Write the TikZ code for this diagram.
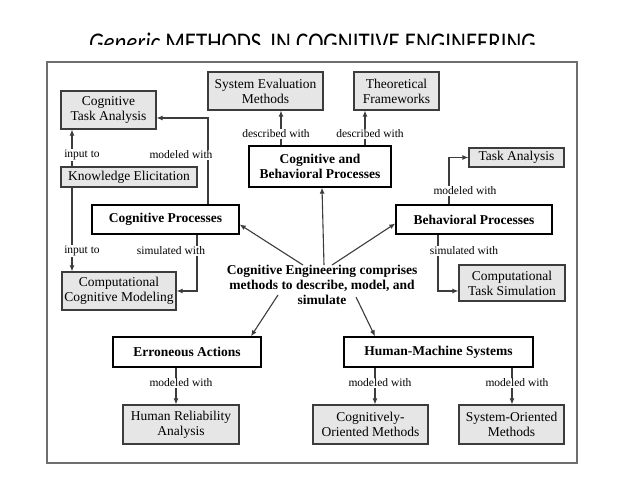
\documentclass[tikz,border=0pt]{standalone}
\usepackage{fontspec}
\setmainfont{Liberation Serif}
\newfontfamily\titlefont{Carlito}
\usepackage{tikz}
\usetikzlibrary{positioning, calc, arrows.meta}
\definecolor{BoxGray}{RGB}{230,230,230}
\definecolor{EdgeGray}{RGB}{60,60,60}
\definecolor{FrameGray}{RGB}{110,110,110}
\tikzset{
    methodbox/.style={
        draw=EdgeGray, fill=BoxGray, line width=1.2pt, align=center, inner sep=0pt,
        font=\fontsize{13.5}{15}\selectfont
    },
    procbox/.style={
        draw=black, fill=white, line width=1.4pt, align=center, inner sep=0pt,
        font=\fontsize{13.5}{15}\selectfont\bfseries
    },
    ptr/.style={
        -{Latex[length=6pt,width=5pt]}, line width=1.1pt, draw=EdgeGray
    },
    labelptr/.style={
        fill=white, inner sep=1pt, font=\fontsize{11.5}{13}\selectfont
    }
}

\begin{document}
\begin{tikzpicture}[x=1pt, y=-1pt]
    \useasboundingbox (0,0) rectangle (638,478);
    % title, cut at the bottom
    \begin{scope}
        \clip (0,0) rectangle (638,45);
        \node[anchor=base west, inner sep=0pt, font=\titlefont\fontsize{27}{30}\selectfont] (title) at (89,52)
            {\scalebox{0.85}[1]{\textit{Generic} METHODS\, IN COGNITIVE ENGINEERING}};
    \end{scope}
    \draw[FrameGray, line width=1.5pt] (47,62) rectangle (577,463);

    % boxes
    \node[methodbox, minimum width=95pt, minimum height=38pt] (cta) at (108.5,110) {Cognitive\\Task Analysis};
    \node[methodbox, minimum width=115pt, minimum height=38pt] (sem) at (265.5,91) {System Evaluation\\Methods};
    \node[methodbox, minimum width=85pt, minimum height=38pt] (tf) at (396.5,91) {Theoretical\\Frameworks};
    \node[methodbox, minimum width=136pt, minimum height=20pt] (ke) at (129,177) {Knowledge Elicitation};
    \node[procbox, minimum width=142pt, minimum height=41pt] (cbp) at (320,166.5) {Cognitive and\\Behavioral Processes};
    \node[methodbox, minimum width=95pt, minimum height=19pt] (ta) at (516.5,157.5) {Task Analysis};
    \node[procbox, minimum width=147pt, minimum height=29pt] (cogproc) at (165.5,219.5) {Cognitive Processes};
    \node[procbox, minimum width=156pt, minimum height=29pt] (behproc) at (474,219.5) {Behavioral Processes};
    \node[methodbox, minimum width=114pt, minimum height=38pt] (ccm) at (119,291) {Computational\\Cognitive Modeling};
    \node[methodbox, minimum width=106pt, minimum height=36pt] (cts) at (512,283) {Computational\\Task Simulation};
    \node[align=center, inner sep=0pt, font=\fontsize{13.5}{15}\selectfont\bfseries] (ce) at (322,285)
        {Cognitive Engineering comprises\\methods to describe, model, and\\simulate};
    \node[procbox, minimum width=148pt, minimum height=30pt] (ea) at (187,352) {Erroneous Actions};
    \node[procbox, minimum width=189pt, minimum height=30pt] (hms) at (438.5,352) {Human-Machine Systems};
    \node[methodbox, minimum width=116pt, minimum height=39pt] (hra) at (181,424.5) {Human Reliability\\Analysis};
    \node[methodbox, minimum width=115pt, minimum height=39pt] (com) at (370.5,424.5) {Cognitively-\\Oriented Methods};
    \node[methodbox, minimum width=105pt, minimum height=39pt] (som) at (511.5,424.5) {System-Oriented\\Methods};

    % connectors
    \draw[ptr] ([xshift=-57pt]ke.north) -- ([xshift=-36.5pt]cta.south);
    \draw[ptr] ([xshift=-57pt]ke.south) -- ([xshift=-47pt]ccm.north);
    \draw[ptr] ([xshift=42.5pt]cogproc.north) |- ([yshift=-8pt]cta.east);
    \draw[ptr] ([xshift=31.5pt]cogproc.south) |- (ccm.east);
    \draw[ptr] ([xshift=-39pt]cbp.north) -- ([xshift=15.5pt]sem.south);
    \draw[ptr] ([xshift=45pt]cbp.north) -- ([xshift=-31.5pt]tf.south);
    \draw[ptr] ([xshift=2pt]ce.north) -- ([xshift=2pt]cbp.south);
    \draw[ptr] ([xshift=-25pt]behproc.north) |- (ta.west);
    \draw[ptr] ([xshift=-36pt]behproc.south) |- ([yshift=-8pt]cts.west);
    \draw[ptr] ([xshift=-19pt]ce.north) -- ([yshift=-5pt]cogproc.east);
    \draw[ptr] ([xshift=10pt]ce.north) -- ([yshift=-4pt]behproc.west);
    \draw[ptr] ([shift={(-44,10)}]ce.center) -- ([xshift=64pt]ea.north);
    \draw[ptr] ([shift={(34,12)}]ce.center) -- ([xshift=-63.5pt]hms.north);
    \draw[ptr] ([xshift=-11pt]ea.south) -- ([xshift=-5pt]hra.north);
    \draw[ptr] ([xshift=-63.5pt]hms.south) -- ([xshift=4.5pt]com.north);
    \draw[ptr] ([xshift=73.5pt]hms.south) -- ([xshift=0.5pt]som.north);

    % labels on the connectors
    \node[labelptr] (lin1) at (82,155) {input to};
    \node[labelptr] (lin2) at (82,251) {input to};
    \node[labelptr] (lmod1) at (181,155) {modeled with};
    \node[labelptr] (lsim1) at (171,251) {simulated with};
    \node[labelptr] (ldes1) at (276,134) {described with};
    \node[labelptr] (ldes2) at (370,134) {described with};
    \node[labelptr] (lmod2) at (465,191) {modeled with};
    \node[labelptr] (lsim2) at (464,251) {simulated with};
    \node[labelptr] (lmod3) at (181,383) {modeled with};
    \node[labelptr] (lmod4) at (380,383) {modeled with};
    \node[labelptr] (lmod5) at (517,383) {modeled with};
\end{tikzpicture}
\end{document}
